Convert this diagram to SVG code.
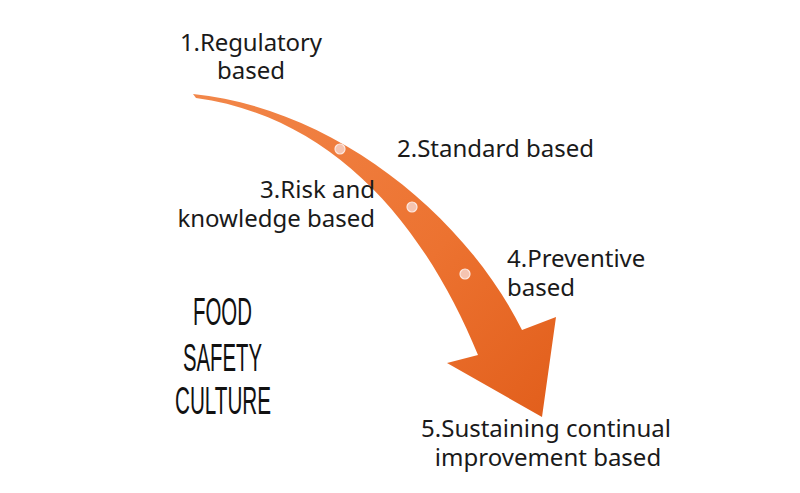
<svg xmlns="http://www.w3.org/2000/svg" width="800" height="493" viewBox="0 0 800 493">
<defs>
<style>
.lbl{font-family:"Noto Sans","Liberation Sans",sans-serif;font-size:24px;fill:#1a1a1a}
.ttl{font-family:"Liberation Sans","DejaVu Sans",sans-serif;font-size:38px;fill:#111}
.dot{fill:#f5c4b1;stroke:#fde8e0;stroke-width:1.2}
</style>
<linearGradient id="og" x1="193" y1="95" x2="545" y2="415" gradientUnits="userSpaceOnUse">
<stop offset="0" stop-color="#f2874a"/>
<stop offset="0.6" stop-color="#ec7230"/>
<stop offset="1" stop-color="#e25f1c"/>
</linearGradient>
</defs>
<rect width="800" height="493" fill="#fff"/>
<g id="arrow">
<path d="M193,94 C330,108 462,210 522,330 L556,317 L542,417 L447,363 L478,355 C425,226 335,117 196,98 Z" fill="url(#og)"/>
</g>
<g id="dots">
<circle class="dot" cx="340" cy="149" r="5"/>
<circle class="dot" cx="412" cy="207" r="5"/>
<circle class="dot" cx="465" cy="274" r="5"/>
</g>
<g id="n1"><text class="lbl" text-anchor="middle" x="251" y="51" textLength="142">1.Regulatory</text><text class="lbl" text-anchor="middle" x="251" y="79">based</text></g>
<g id="n2"><text class="lbl" x="397" y="157" textLength="197">2.Standard based</text></g>
<g id="n3"><text class="lbl" text-anchor="end" x="375" y="198">3.Risk and</text><text class="lbl" text-anchor="end" x="375" y="227">knowledge based</text></g>
<g id="n4"><text class="lbl" x="507" y="267">4.Preventive</text><text class="lbl" x="507" y="296">based</text></g>
<g id="n5"><text class="lbl" text-anchor="middle" x="546" y="437">5.Sustaining continual</text><text class="lbl" text-anchor="middle" x="548" y="466">improvement based</text></g>
<g id="title">
<text class="ttl" x="193" y="325" textLength="59" lengthAdjust="spacingAndGlyphs">FOOD</text>
<text class="ttl" x="183" y="371" textLength="79" lengthAdjust="spacingAndGlyphs">SAFETY</text>
<text class="ttl" x="175" y="414" textLength="96" lengthAdjust="spacingAndGlyphs">CULTURE</text>
</g>
</svg>
